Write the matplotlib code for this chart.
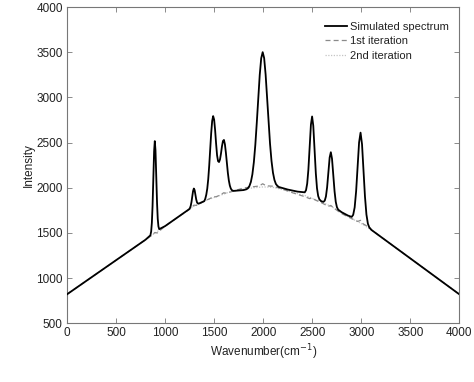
import matplotlib
matplotlib.use("Agg")
import matplotlib.pyplot as plt

plt.rcParams['font.family'] = ['Liberation Sans', 'DejaVu Sans']

# Simulated spectrum (wavenumber, intensity)
spec_x = [0, 400, 800,
          850, 858, 865, 872, 880, 888, 895, 902, 910, 918, 925, 932, 940,
          1000, 1100, 1200,
          1245, 1253, 1261, 1269, 1277, 1285, 1293, 1301, 1309, 1317, 1325, 1333, 1341,
          1370,
          1400, 1410, 1420, 1430, 1440, 1450, 1460, 1470, 1480, 1490, 1500, 1510, 1520,
          1530, 1540, 1550, 1560, 1570, 1580, 1590, 1600, 1610, 1620, 1630, 1640, 1650,
          1660, 1670, 1680, 1690, 1700,
          1750, 1800,
          1830, 1845, 1860, 1875, 1890, 1905, 1920, 1935, 1950, 1965, 1980, 1995, 2010,
          2025, 2040, 2055, 2070, 2085, 2100, 2115, 2130, 2145, 2160,
          2250, 2350,
          2424, 2437, 2449, 2461, 2474, 2487, 2499, 2511, 2524, 2537, 2549, 2561, 2574,
          2594,
          2615, 2628, 2640, 2652, 2665, 2678, 2690, 2702, 2715, 2728, 2740, 2752, 2765,
          2800, 2866,
          2903, 2918, 2933, 2948, 2963, 2978, 2993, 3008, 3023, 3038, 3053, 3068, 3083,
          3105, 3500, 4000]
spec_y = [821, 1123, 1425,
          1474, 1517, 1612, 1795, 2104, 2405, 2517, 2416, 2127, 1830, 1657, 1573, 1542,
          1576, 1652, 1727,
          1763, 1775, 1799, 1842, 1904, 1963, 1992, 1975, 1925, 1873, 1840, 1827, 1824,
          1838,
          1853, 1880, 1924, 1991, 2097, 2247, 2427, 2606, 2740, 2794, 2755, 2640, 2490,
          2360, 2295, 2285, 2315, 2380, 2460, 2518, 2530, 2482, 2388, 2274, 2165, 2081,
          2025, 1992, 1975, 1968, 1966,
          1970, 1975,
          1984, 1996, 2020, 2066, 2149, 2283, 2475, 2722, 2995, 3250, 3434, 3502, 3437,
          3255, 3003, 2732, 2488, 2298, 2167, 2087, 2042, 2022, 2009,
          1981, 1958,
          1950, 1974, 2047, 2200, 2454, 2700, 2790, 2687, 2427, 2160, 1994, 1909, 1871,
          1850,
          1845, 1858, 1904, 2005, 2173, 2336, 2394, 2322, 2144, 1961, 1846, 1786, 1758,
          1730, 1692,
          1678, 1701, 1783, 1963, 2236, 2502, 2611, 2483, 2197, 1904, 1704, 1602, 1559,
          1533, 1219, 821]

# 1st iteration baseline estimate
it1_x = [0, 800, 870, 895, 920, 1000, 1200, 1270, 1293, 1320, 1420, 1465, 1490, 1520,
         1575, 1597, 1625, 1700, 1800, 1900, 1960, 1995, 2030, 2100, 2200, 2300, 2424,
         2475, 2499, 2525, 2594, 2665, 2690, 2715, 2800, 2900, 2965, 2993, 3020, 3088,
         3105, 3500, 4000]
it1_y = [821, 1425, 1478, 1505, 1500, 1576, 1727, 1778, 1808, 1805, 1862, 1885, 1905,
         1900, 1928, 1945, 1940, 1965, 1998, 2012, 2020, 2045, 2022, 2018, 1985, 1945,
         1902, 1880, 1890, 1868, 1835, 1795, 1805, 1780, 1715, 1660, 1628, 1640, 1600,
         1560, 1533, 1219, 821]

# 2nd iteration baseline estimate
it2_x = [0, 800, 1000, 1200, 1300, 1420, 1550, 1660, 1800, 1900, 2000, 2100, 2200,
         2300, 2424, 2594, 2700, 2800, 2900, 3000, 3105, 3500, 4000]
it2_y = [821, 1425, 1576, 1727, 1800, 1862, 1912, 1955, 1985, 2000, 2010, 2005, 1980,
         1950, 1915, 1845, 1790, 1720, 1660, 1605, 1533, 1219, 821]

xticks = [0, 500, 1000, 1500, 2000, 2500, 3000, 3500, 4000]
yticks = [500, 1000, 1500, 2000, 2500, 3000, 3500, 4000]

fig = plt.figure(figsize=(4.74, 3.82), dpi=100)
ax = fig.add_axes([0.1414, 0.1537, 0.8276, 0.8275])

ax.plot(spec_x, spec_y, color='black', lw=1.3, label='Simulated spectrum', zorder=3)
ax.plot(it1_x, it1_y, color='#8a8a8a', lw=0.9, ls=(0, (4, 2.5)), label='1st iteration', zorder=2)
ax.plot(it2_x, it2_y, color='#c4c4c4', lw=0.9, ls=(0, (1, 1.2)), label='2nd iteration', zorder=1)

ax.set_xlim(0, 4000)
ax.set_ylim(500, 4000)
ax.set_xticks(xticks)
ax.set_yticks(yticks)
ax.tick_params(direction='in', top=True, right=True, length=3.5, width=0.6,
               colors='#777777', labelcolor='#222222', labelsize=8.5, pad=3)
for s in ax.spines.values():
    s.set_color('#777777')
    s.set_linewidth(0.8)

ax.set_xlabel('Wavenumber(cm$^{-1}$)', fontsize=8.5, color='#222222', labelpad=2)
ax.set_ylabel('Intensity', fontsize=8.5, color='#222222', labelpad=1)

leg = ax.legend(loc='upper right', bbox_to_anchor=(0.99, 0.975), frameon=False,
                fontsize=8, handlelength=1.9, handletextpad=0.3, labelspacing=0.4,
                borderaxespad=0.2)
for t in leg.get_texts():
    t.set_color('#222222')

fig.savefig('out.png', dpi=100)
